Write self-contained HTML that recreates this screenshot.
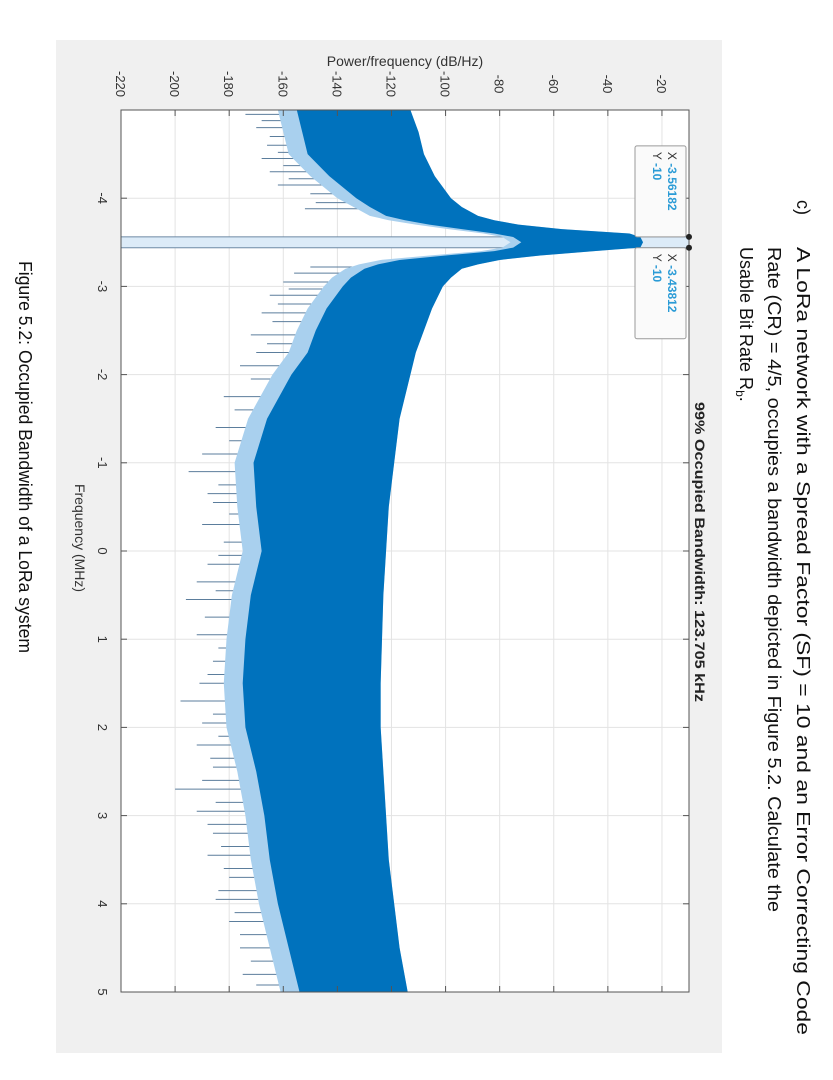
<!DOCTYPE html>
<html><head><meta charset="utf-8"><style>
html,body{margin:0;padding:0;background:#fff;}
svg{display:block;}
text{font-family:"Liberation Sans",sans-serif;}
</style></head><body>
<svg id="chart" width="833" height="1080" viewBox="0 0 833 1080" xmlns="http://www.w3.org/2000/svg">
<rect x="56" y="40" width="666" height="1013" fill="#f0f0f0"/>
<rect x="121" y="110" width="568" height="882" fill="#ffffff"/>
<g id="grid"></g>
<g id="series"></g>
<g id="axes"></g>

<text transform="translate(797,200) rotate(90)" font-size="18" fill="#111">c)</text>
<text transform="translate(797,247) rotate(90)" font-size="18" fill="#111" textLength="788" lengthAdjust="spacingAndGlyphs">A LoRa network with a Spread Factor (SF) = 10 and an Error Correcting Code</text>
<text transform="translate(768,247) rotate(90)" font-size="18" fill="#111" textLength="665" lengthAdjust="spacingAndGlyphs">Rate (CR) = 4/5, occupies a bandwidth depicted in Figure 5.2. Calculate the</text>
<text transform="translate(740,247) rotate(90)" font-size="18" fill="#111">Usable Bit Rate R<tspan font-size="12" dy="4">b</tspan><tspan dy="-4">.</tspan></text>

<text transform="translate(695,552) rotate(90)" font-size="14" font-weight="bold" fill="#222" text-anchor="middle" textLength="300" lengthAdjust="spacingAndGlyphs">99% Occupied Bandwidth: 123.705 kHz</text>
<text transform="translate(75,538) rotate(90)" font-size="14" fill="#333" text-anchor="middle">Frequency (MHz)</text>
<text transform="translate(405,66)" font-size="14" fill="#333" text-anchor="middle">Power/frequency (dB/Hz)</text>
<text transform="translate(19,457) rotate(90)" font-size="18" fill="#111" text-anchor="middle" textLength="392" lengthAdjust="spacingAndGlyphs">Figure 5.2: Occupied Bandwidth of a LoRa system</text>
</svg>
<script>
const freqs = [-5,-4.75,-4.5,-4.25,-4,-3.9,-3.8,-3.75,-3.7,-3.65,-3.6,-3.56,-3.5,-3.44,-3.4,-3.35,-3.3,-3.25,-3.2,-3.1,-3,-2.75,-2.5,-2.25,-2,-1.5,-1,-0.5,0,0.5,1,1.5,2,2.5,3,3.5,4,4.5,5];
const upperDb = [-113,-110,-108,-104,-98,-94,-88,-82,-73,-57,-32,-28,-27,-28,-45,-65,-80,-88,-94,-98,-101,-105,-108,-111,-113,-117,-119,-121,-122,-123,-123.5,-124,-124,-123,-122,-121,-119,-117,-114];
const lowerDb = [-155,-153,-151,-143,-133,-128,-122,-115,-106,-94,-82,-75,-72,-75,-82,-100,-117,-125,-130,-135,-138,-144,-148,-151,-157,-166,-171,-170,-168,-172,-174,-175,-174,-170,-167,-165,-162,-158,-154];
const fringeDb = [-162,-160,-158,-150,-140,-134,-128,-121,-111,-99,-86,-79,-76,-79,-87,-106,-124,-132,-137,-142,-145,-151,-155,-158,-164,-173,-178,-177,-175,-179,-181,-182,-181,-177,-174,-172,-169,-165,-161];
const spikeFreqs = [-4.95,-4.88,-4.8,-4.7,-4.6,-4.52,-4.45,-4.37,-4.3,-4.22,-4.15,-4.05,-3.95,-3.88,-3.22,-3.15,-3.05,-2.97,-2.9,-2.8,-2.7,-2.6,-2.45,-2.35,-2.25,-2.1,-1.95,-1.75,-1.6,-1.4,-1.25,-1.1,-0.9,-0.75,-0.65,-0.55,-0.42,-0.3,-0.1,0.05,0.15,0.35,0.45,0.55,0.75,0.95,1.1,1.25,1.4,1.5,1.7,1.85,1.95,2.1,2.2,2.35,2.45,2.6,2.7,2.85,2.95,3.1,3.2,3.35,3.45,3.6,3.7,3.85,3.95,4.1,4.2,4.35,4.5,4.65,4.8,4.92];
const spikeDb = [-174,-168,-170,-165,-166,-162,-168,-160,-165,-158,-162,-150,-148,-152,-150,-156,-160,-158,-165,-162,-168,-164,-172,-166,-170,-176,-172,-182,-178,-185,-180,-190,-195,-184,-188,-186,-180,-190,-182,-184,-188,-192,-185,-196,-189,-192,-184,-186,-188,-191,-198,-186,-190,-184,-192,-187,-186,-190,-200,-185,-192,-188,-186,-183,-188,-182,-180,-184,-185,-178,-180,-176,-176,-172,-175,-170];
const dbTicks = [-220,-200,-180,-160,-140,-120,-100,-80,-60,-40,-20];
const freqTicks = [-4,-3,-2,-1,0,1,2,3,4,5];
const bandEdges = [-3.56182,-3.43812];
const markerDb = -10;

const X = db => 121 + (db + 220) * 568 / 210;
const Y = f => 110 + (f + 5) * 88.2;
const NS = 'http://www.w3.org/2000/svg';
function mk(tag, attrs, parent){ const e=document.createElementNS(NS,tag); for(const k in attrs) e.setAttribute(k,attrs[k]); parent.appendChild(e); return e; }

const grid = document.getElementById('grid');
const series = document.getElementById('series');
const axes = document.getElementById('axes');

dbTicks.forEach(d=>{
  const l = mk('line',{x1:X(d),x2:X(d),y1:110,y2:992,stroke:'#e3e3e3','stroke-width':1},grid);
  
  
});
freqTicks.forEach(f=>{
  const l = mk('line',{x1:121,x2:689,y1:Y(f),y2:Y(f),stroke:'#e3e3e3','stroke-width':1},grid);
  
  
});

const band = mk('rect',{x:121,y:Y(bandEdges[0]),width:568,height:Y(bandEdges[1])-Y(bandEdges[0]),fill:'#dcebf8',stroke:'#6d8aa5','stroke-width':1},series);



function interp(arr,f){
  let j=0; while(j<freqs.length-2 && freqs[j+1]<f) j++;
  const t=(f-freqs[j])/(freqs[j+1]-freqs[j]);
  return arr[j]+(arr[j+1]-arr[j])*t;
}

spikeFreqs.forEach((f,i)=>{
  const base = interp(lowerDb,f);
  const s = mk('line',{x1:X(spikeDb[i]),x2:X(base),y1:Y(f),y2:Y(f),stroke:'#5b7d9c','stroke-width':1},series);
  
  
});

function poly(lo, color){
  let pts=[];
  freqs.forEach((f,i)=>pts.push(X(upperDb[i])+','+Y(f)));
  for(let i=freqs.length-1;i>=0;i--) pts.push(X(lo[i])+','+Y(freqs[i]));
  return mk('polygon',{points:pts.join(' '),fill:color},series);
}
const fr = poly(fringeDb,'#a9d0ee');


const so = poly(lowerDb,'#0072bd');



const box = mk('rect',{x:121,y:110,width:568,height:882,fill:'none',stroke:'#555','stroke-width':1},axes);



dbTicks.forEach(d=>{
  const t1 = mk('line',{x1:X(d),x2:X(d),y1:110,y2:116,stroke:'#555'},axes);
  
  
  const t2 = mk('line',{x1:X(d),x2:X(d),y1:986,y2:992,stroke:'#555'},axes);
  
  
  const tx = mk('text',{transform:`translate(${X(d)-5},84) rotate(90)`,'font-size':13,fill:'#333','text-anchor':'middle'},axes);
  tx.textContent=d;
  
  
});
freqTicks.forEach(f=>{
  const t1 = mk('line',{x1:121,x2:127,y1:Y(f),y2:Y(f),stroke:'#555'},axes);
  
  
  const t2 = mk('line',{x1:683,x2:689,y1:Y(f),y2:Y(f),stroke:'#555'},axes);
  
  
  const tx = mk('text',{transform:`translate(98,${Y(f)}) rotate(90)`,'font-size':13,fill:'#333','text-anchor':'middle'},axes);
  tx.textContent=f;
  
  
});

bandEdges.forEach((f,i)=>{
  const yE = Y(f);
  const y0 = i===0 ? yE-91 : yE;
  const tip = mk('rect',{x:635,y:y0,width:51,height:91,fill:'#fafafa',stroke:'#9a9a9a','stroke-width':1,rx:2},axes);
  
  
  const tx = mk('text',{transform:`translate(668,${y0+6}) rotate(90)`,'font-size':12,fill:'#333'},axes);
  tx.innerHTML = `X <tspan fill="#2a9bd6" font-weight="bold">${f}</tspan>`;
  
  
  const ty = mk('text',{transform:`translate(653,${y0+6}) rotate(90)`,'font-size':12,fill:'#333'},axes);
  ty.innerHTML = `Y <tspan fill="#2a9bd6" font-weight="bold">${markerDb}</tspan>`;
  
  
  const dot = mk('circle',{cx:X(markerDb),cy:yE,r:3,fill:'#222'},axes);
  
  
});
</script>
</body></html>
